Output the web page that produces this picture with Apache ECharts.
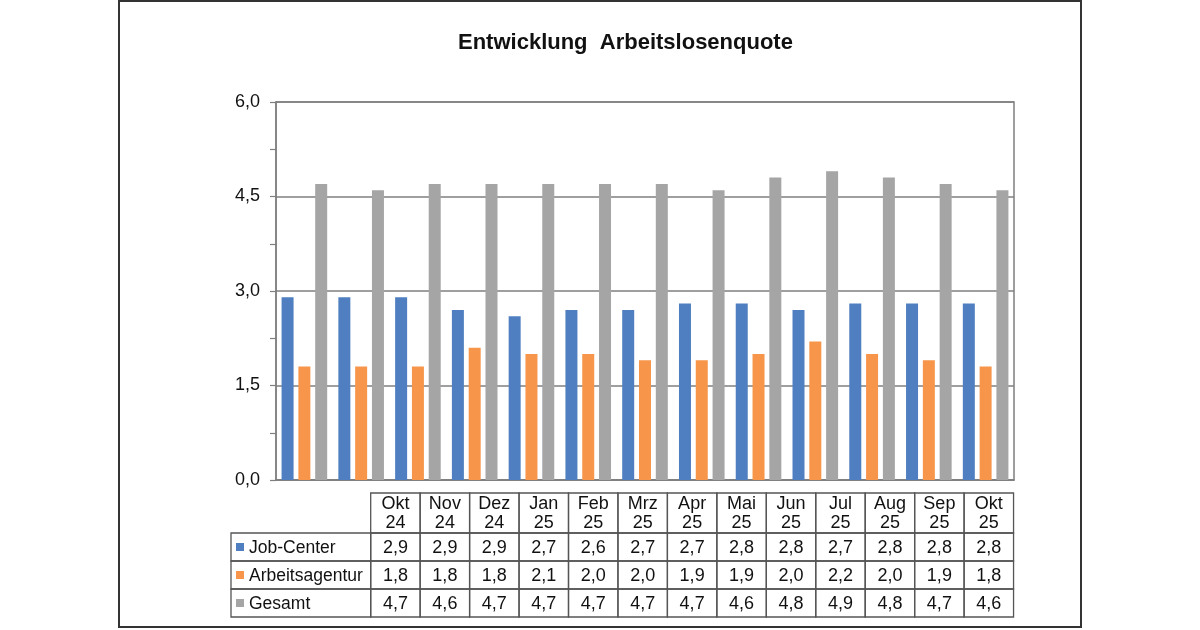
<!DOCTYPE html>
<html>
<head>
<meta charset="utf-8">
<script src="https://cdn.jsdelivr.net/npm/echarts@6/dist/echarts.min.js"></script>
<style>
  html, body { margin: 0; padding: 0; background: #fff; }
  #chart { width: 1200px; height: 630px; }
</style>
</head>
<body>
<div id="chart"></div>
<script>
  // Monate (Kategorien)
  const months = ['Okt 24', 'Nov 24', 'Dez 24', 'Jan 25', 'Feb 25', 'Mrz 25', 'Apr 25',
                  'Mai 25', 'Jun 25', 'Jul 25', 'Aug 25', 'Sep 25', 'Okt 25'];
  const jobCenter      = [2.9, 2.9, 2.9, 2.7, 2.6, 2.7, 2.7, 2.8, 2.8, 2.7, 2.8, 2.8, 2.8];
  const arbeitsagentur = [1.8, 1.8, 1.8, 2.1, 2.0, 2.0, 1.9, 1.9, 2.0, 2.2, 2.0, 1.9, 1.8];
  const gesamt         = [4.7, 4.6, 4.7, 4.7, 4.7, 4.7, 4.7, 4.6, 4.8, 4.9, 4.8, 4.7, 4.6];
  const seriesNames = ['Job-Center', 'Arbeitsagentur', 'Gesamt'];
  const colors = ['#4f7fc0', '#f7964a', '#a5a5a5'];

  const font = 'Liberation Sans, Arial, sans-serif';
  const fmt = v => v.toFixed(1).replace('.', ',');

  // Datentabelle unter dem Diagramm
  const tblLeft = 231, colStart = 370.7, colW = 49.45;
  const rowTops = [493, 533, 561, 589, 617];
  const lineStyle = { stroke: '#555', lineWidth: 1.3, fill: null };
  const table = [];

  months.forEach((m, i) => {
    const x = colStart + i * colW;
    table.push({ type: 'rect', shape: { x: x, y: rowTops[0], width: colW, height: rowTops[1] - rowTops[0] }, style: lineStyle });
    table.push({
      type: 'text', x: x + colW / 2, y: (rowTops[0] + rowTops[1]) / 2 + 1,
      style: { text: m.replace(' ', '\n'), font: '18px ' + font, fill: '#111', align: 'center', verticalAlign: 'middle', lineHeight: 19 }
    });
  });

  [jobCenter, arbeitsagentur, gesamt].forEach((vals, r) => {
    const y0 = rowTops[r + 1], h = rowTops[r + 2] - y0;
    table.push({ type: 'rect', shape: { x: tblLeft, y: y0, width: colStart - tblLeft, height: h }, style: lineStyle });
    table.push({ type: 'rect', shape: { x: tblLeft + 5, y: y0 + h / 2 - 4, width: 8, height: 8 }, style: { fill: colors[r] } });
    table.push({
      type: 'text', x: tblLeft + 18, y: y0 + h / 2 + 1,
      style: { text: seriesNames[r], font: '17.5px ' + font, fill: '#111', align: 'left', verticalAlign: 'middle' }
    });
    vals.forEach((v, i) => {
      const x = colStart + i * colW;
      table.push({ type: 'rect', shape: { x: x, y: y0, width: colW, height: h }, style: lineStyle });
      table.push({
        type: 'text', x: x + colW / 2, y: y0 + h / 2 + 1,
        style: { text: fmt(v), font: '18px ' + font, fill: '#111', align: 'center', verticalAlign: 'middle' }
      });
    });
  });

  const chart = echarts.init(document.getElementById('chart'));
  const option = {
    backgroundColor: '#fff',
    animation: false,
    title: {
      text: 'Entwicklung  Arbeitslosenquote',
      left: 453,
      top: 27,
      textStyle: { fontFamily: font, fontSize: 22, fontWeight: 'bold', color: '#111' }
    },
    grid: {
      left: 276, right: 186, top: 102, bottom: 150,
      show: true, borderColor: '#7f7f7f', borderWidth: 1.5
    },
    xAxis: {
      type: 'category',
      data: months,
      axisLine: { show: true, lineStyle: { color: '#7f7f7f', width: 1.5 } },
      axisTick: { show: false },
      axisLabel: { show: false }
    },
    yAxis: {
      type: 'value',
      min: 0, max: 6, interval: 1.5,
      axisLine: { show: true, lineStyle: { color: '#7f7f7f', width: 1.5 } },
      axisTick: { show: true, length: 6, lineStyle: { color: '#7f7f7f', width: 1.2 } },
      minorTick: { show: true, splitNumber: 2, length: 6, lineStyle: { color: '#7f7f7f', width: 1.2 } },
      splitLine: { show: true, lineStyle: { color: '#7f7f7f', width: 1.5 } },
      axisLabel: { formatter: fmt, fontFamily: font, fontSize: 18, color: '#111', margin: 16 }
    },
    series: [jobCenter, arbeitsagentur, gesamt].map((d, i) => ({
      name: seriesNames[i],
      type: 'bar',
      data: d,
      barWidth: 12,
      barGap: '40%',
      itemStyle: { color: colors[i] }
    })),
    graphic: [
      { type: 'rect', shape: { x: 119, y: 1, width: 962, height: 626 }, style: { stroke: '#333', lineWidth: 2, fill: null } },
      { type: 'group', children: table }
    ]
  };
  chart.setOption(option);
  window.addEventListener('resize', function () {
    chart.resize();
  });
</script>
</body>
</html>
